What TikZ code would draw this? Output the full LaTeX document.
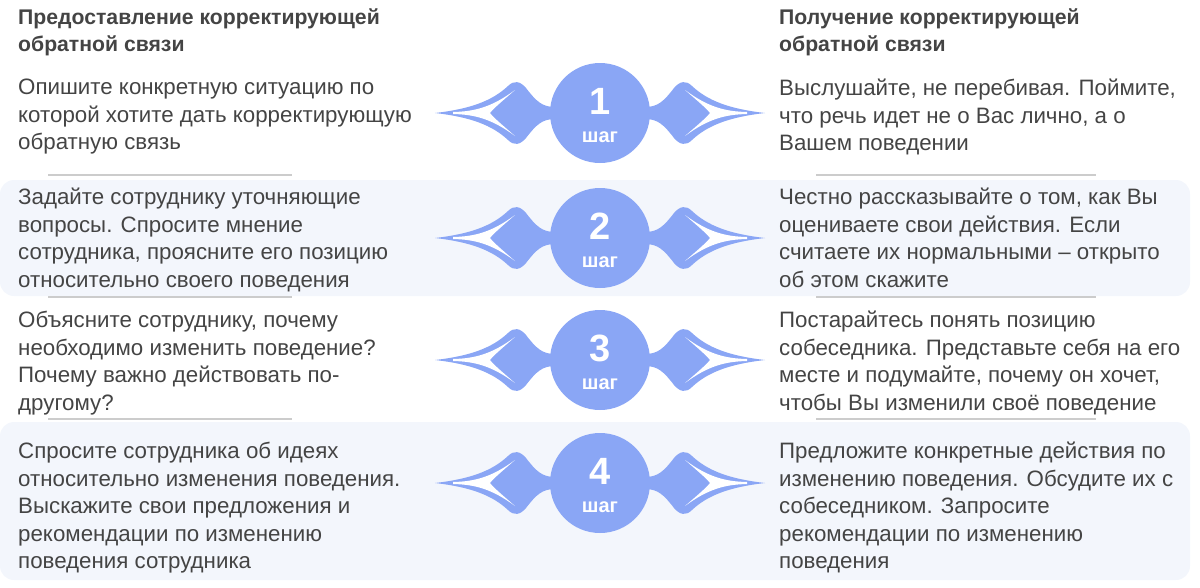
\documentclass[tikz,border=0pt]{standalone}
\usepackage{fontspec}
\setmainfont{Liberation Sans}
\definecolor{wing}{HTML}{8AA6F5}
\definecolor{band}{HTML}{F3F6FC}
\definecolor{txt}{HTML}{444444}
\definecolor{sep}{HTML}{CCCCCC}
\begin{document}
\begin{tikzpicture}[x=1pt,y=-1pt,
  body/.style={anchor=north west,inner sep=0,align=left,text=txt,font=\fontsize{22.3}{27.5}\selectfont},
  head/.style={body,font=\bfseries\fontsize{21.2}{27}\selectfont},
  sepline/.style={draw=sep,line width=1.2pt},
  stepcircle/.style={circle,fill=wing,minimum size=100pt,inner sep=0}]
\useasboundingbox (0,0) rectangle (1200,587);
\fill[band,rounded corners=14pt] (0,180) rectangle (1190,296);
\fill[band,rounded corners=14pt] (0,422) rectangle (1190,580);
\draw[sepline] (48,175) -- (292,175);
\draw[sepline] (48,297) -- (292,297);
\draw[sepline] (48,419) -- (292,419);
\draw[sepline] (816,175) -- (1096,175);
\draw[sepline] (816,297) -- (1096,297);
\draw[sepline] (816,419) -- (1096,419);
\newcommand{\wingshape}{%
  \fill[wing] (-165,0) .. controls (-130,-4) and (-108,-12) .. (-92,-27)
    .. controls (-86,-33) and (-80,-32) .. (-74,-25)
    .. controls (-64,-12) and (-58,-6) .. (-45,-6) -- (-45,6)
    .. controls (-58,6) and (-64,12) .. (-74,25)
    .. controls (-80,32) and (-86,33) .. (-92,27)
    .. controls (-108,12) and (-130,4) .. cycle;
  \fill[white] (-147,-1) .. controls (-125,-1.5) and (-108,-6) .. (-85,-23)
    .. controls (-100,-10) and (-106,-5) .. (-110,0)
    .. controls (-106,5) and (-100,10) .. (-85,23)
    .. controls (-108,6) and (-125,1.5) .. (-147,1) -- cycle;}
\foreach \n/\cy in {1/113,2/238,3/360,4/483}{
  \begin{scope}[shift={(600,\cy)}]\wingshape\end{scope}
  \begin{scope}[shift={(600,\cy)},xscale=-1]\wingshape\end{scope}
  \node[stepcircle] (c\n) at (600,\cy) {};
  \node[text=white,font=\bfseries\fontsize{38}{38}\selectfont] (n\n) at (600,\cy-12) {\n};
  \node[text=white,font=\bfseries\fontsize{20}{20}\selectfont] (s\n) at (600,\cy+24) {шаг};
}
\node[head] (hl) at (18,9) {Предоставление корректирующей\\обратной связи};
\node[head] (hr) at (779,9) {Получение корректирующей\\обратной связи};
\node[body] (l1) at (18,79) {Опишите конкретную ситуацию по\\которой хотите дать корректирующую\\обратную связь};
\node[body] (l2) at (18,188) {Задайте сотруднику уточняющие\\вопросы. Спросите мнение\\сотрудника, проясните его позицию\\относительно своего поведения};
\node[body] (l3) at (18,311) {Объясните сотруднику, почему\\необходимо изменить поведение?\\Почему важно действовать по-\\другому?};
\node[body] (l4) at (18,442) {Спросите сотрудника об идеях\\относительно изменения поведения.\\Выскажите свои предложения и\\рекомендации по изменению\\поведения сотрудника};
\node[body] (r1) at (779,79) {Выслушайте, не перебивая. Поймите,\\что речь идет не о Вас лично, а о\\Вашем поведении};
\node[body] (r2) at (779,188) {Честно рассказывайте о том, как Вы\\оцениваете свои действия. Если\\считаете их нормальными – открыто\\об этом скажите};
\node[body] (r3) at (779,311) {Постарайтесь понять позицию\\собеседника. Представьте себя на его\\месте и подумайте, почему он хочет,\\чтобы Вы изменили своё поведение};
\node[body] (r4) at (779,442) {Предложите конкретные действия по\\изменению поведения. Обсудите их с\\собеседником. Запросите\\рекомендации по изменению\\поведения};
\end{tikzpicture}
\end{document}
